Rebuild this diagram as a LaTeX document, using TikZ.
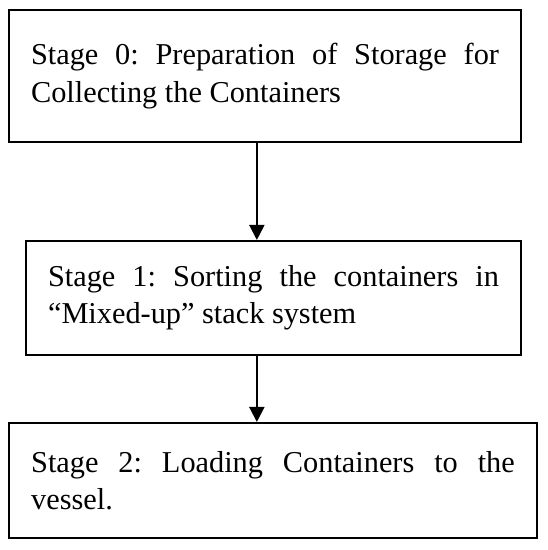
\documentclass[tikz,border=0pt]{standalone}
\usepackage{fontspec}
\setmainfont{Liberation Serif}
\usepackage{tikz}
\usetikzlibrary{arrows.meta,positioning}

\begin{document}
\begin{tikzpicture}[stage/.style={rectangle, draw, line width=0.9pt, inner xsep=0.336cm, align=justify, font=\fontsize{13.2}{16.3}\selectfont\frenchspacing},
  flow/.style={-{Triangle[width=0.23cm,length=0.23cm]}, line width=0.9pt}]
\useasboundingbox (0,0) rectangle (8.384,-8.415);
\node[stage, minimum width=7.834cm, minimum height=2.02cm, text width=7.16cm] (prep) at (4.055,-1.163) {Stage 0: Preparation of Storage for\linebreak Collecting the Containers};
\node[stage, minimum width=7.574cm, minimum height=1.744cm, text width=6.9cm] (sort) at (4.185,-4.559) {Stage 1: Sorting the containers in\linebreak ``Mixed-up'' stack system};
\node[stage, minimum width=8.078cm, minimum height=1.76cm, text width=7.4cm] (load) at (4.177,-7.352) {Stage 2: Loading Containers to the\linebreak vessel.};
\coordinate (mid) at (3.93,0);

\draw[flow] (prep.south -| mid) -- (sort.north -| mid);
\draw[flow] (sort.south -| mid) -- (load.north -| mid);
\end{tikzpicture}
\end{document}
